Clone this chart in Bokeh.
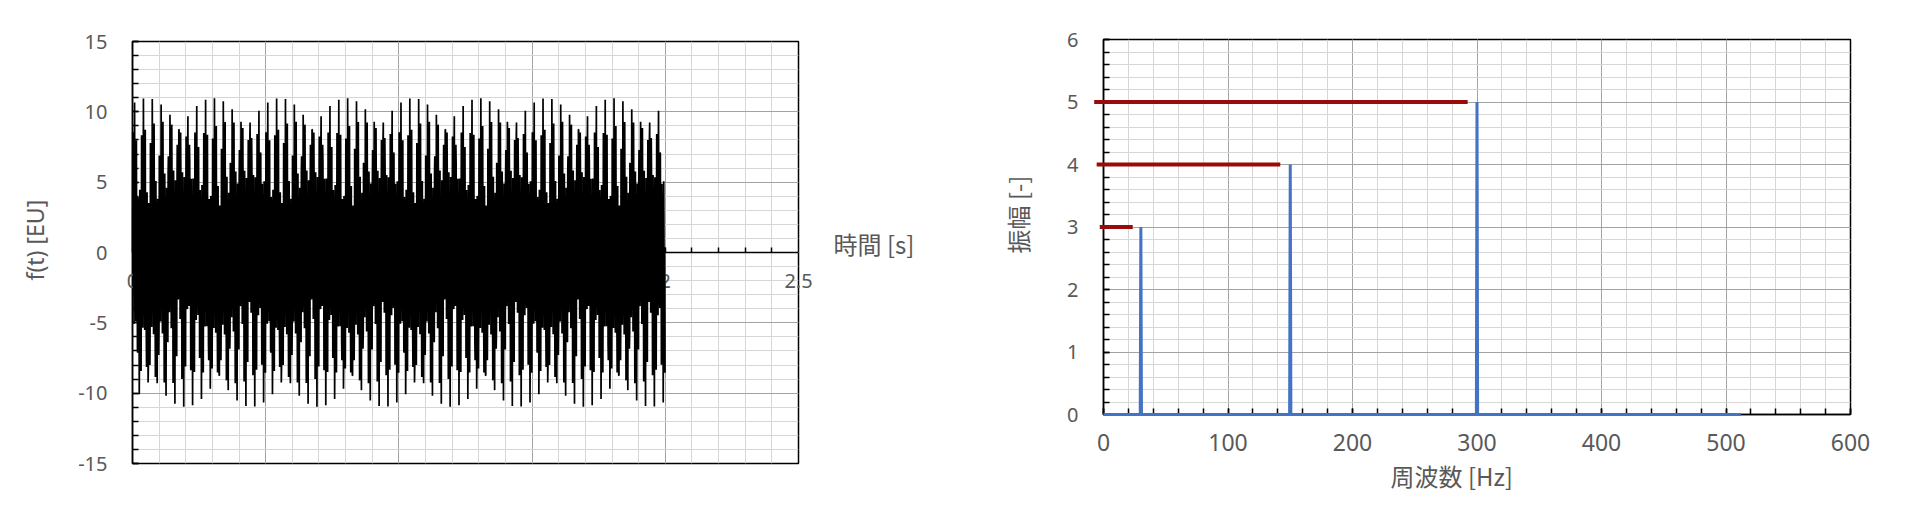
import numpy as np
from bokeh.plotting import figure
from bokeh.models import (SingleIntervalTicker, FixedTicker, Range1d, PrintfTickFormatter, Title)
from bokeh.core.properties import value
from bokeh.layouts import row
from bokeh.embed import file_html
from bokeh.resources import INLINE

# ---------------- data ----------------
# signal components (frequency [Hz], amplitude)
component_freqs = [30, 150, 300]
component_amps = [3, 4, 5]
sample_rate = 1024          # spectrum ends at 512 Hz
duration = 2.0              # time signal ends at 2 s

# amplitude spectrum polyline
spec_freq = [0, 29.5, 30, 30.5, 149.5, 150, 150.5, 299.5, 300, 300.5, 512]
spec_amp = [0, 0, 3, 0, 0, 4, 0, 0, 5, 0, 0]

# dark red horizontal marker lines
marker_y = [3, 4, 5]
marker_x_start = [-3, -5.5, -7.5]
marker_x_end = [23.5, 142, 292.5]

# time-axis tick labels
time_ticks = [0, 0.5, 1, 1.5, 2, 2.5]
time_tick_labels = ["0", "0.5", "1", "1.5", "2", "2.5"]

# ---------------- styles ----------------
NUM_FONT = "Noto Sans"
JP_FONT = "Noto Sans CJK JP"
TXT = "#595959"
MAJOR = "#a3a3a3"
MINOR = "#d6d6d6"
H = 500

t = np.arange(int(sample_rate * duration)) / sample_rate
f = np.zeros_like(t)
for fr, a in zip(component_freqs, component_amps):
    f += a * np.sin(2 * np.pi * fr * t)


def no_align(p):
    try:
        p.frame_align = False
    except Exception:
        pass


def style_axis(ax, size="20px"):
    ax.axis_line_color = "black"
    ax.axis_line_width = 1.5
    ax.major_tick_in = 6
    ax.major_tick_out = 0
    ax.minor_tick_in = 6
    ax.minor_tick_out = 0
    ax.major_tick_line_color = "black"
    ax.minor_tick_line_color = "black"
    ax.major_tick_line_width = 1.5
    ax.minor_tick_line_width = 1.5
    ax.major_label_text_font = NUM_FONT
    ax.major_label_text_font_size = size
    ax.major_label_text_color = TXT


def style_grid(g, interval, nminor):
    g.ticker = SingleIntervalTicker(interval=interval, num_minor_ticks=nminor)
    g.grid_line_color = MAJOR
    g.grid_line_width = 1
    g.minor_grid_line_color = MINOR
    g.minor_grid_line_width = 1


def text_strip(width, height=H):
    s = figure(width=width, height=height, x_range=Range1d(0, width), y_range=Range1d(0, height),
               output_backend="svg", toolbar_location=None,
               x_axis_location=None, y_axis_location=None,
               min_border_left=0, min_border_right=0, min_border_top=0, min_border_bottom=0)
    s.outline_line_color = None
    s.xgrid.visible = False
    s.ygrid.visible = False
    no_align(s)
    return s


# ---------------- left strip: y title of time plot ----------------
s0 = text_strip(60)
s0.text(x=[34], y=[H - 280], text=["f(t) [EU]"], angle=np.pi / 2,
        text_align="left", text_baseline="middle",
        text_font=value(NUM_FONT), text_font_size="23px", text_color=TXT)

# ---------------- left: time signal ----------------
p1 = figure(frame_width=666, frame_height=422,
            x_range=Range1d(0, 2.5), y_range=Range1d(-15, 15),
            output_backend="svg", toolbar_location=None,
            min_border_left=72, min_border_right=22, min_border_top=41,
            min_border_bottom=20)
no_align(p1)
p1.outline_line_color = "black"
p1.outline_line_width = 1.5
style_grid(p1.xgrid[0], 0.5, 5)
style_grid(p1.ygrid[0], 5, 5)

p1.yaxis.ticker = SingleIntervalTicker(interval=5, num_minor_ticks=5)
p1.yaxis.formatter = PrintfTickFormatter(format="%d")
style_axis(p1.yaxis[0])
p1.yaxis.major_label_standoff = 25

# x axis crossing at zero (line + small ticks every 0.1 s); its labels are
# drawn as text so that they may cross the frame edge and lie beneath the signal
xa = p1.xaxis[0]
xa.fixed_location = 0
xa.ticker = FixedTicker(ticks=[], minor_ticks=list(np.round(np.arange(1, 25) * 0.1, 1)))
style_axis(xa)
xa.minor_tick_in = 5

tl = p1.text(x=time_ticks, y=[-2.0] * len(time_ticks), text=time_tick_labels,
             text_align="center", text_baseline="middle",
             text_font=value(NUM_FONT), text_font_size="20px", text_color=TXT)
tl.level = "annotation"

sig = p1.line(t, f, line_color="black", line_width=1.7)
sig.level = "annotation"

# ---------------- middle strip: 時間 [s] and y title of spectrum ----------------
s1 = text_strip(240)
s1.text(x=[13], y=[H - 243], text=["時間 [s]"],
        text_align="left", text_baseline="middle",
        text_font=value(JP_FONT), text_font_size="24px", text_color=TXT)
s1.text(x=[197], y=[H - 253], text=["振幅 [-]"], angle=np.pi / 2,
        text_align="left", text_baseline="middle",
        text_font=value(JP_FONT), text_font_size="24px", text_color=TXT)

# ---------------- right: amplitude spectrum ----------------
p2 = figure(frame_width=747, frame_height=375,
            x_range=Range1d(0, 600), y_range=Range1d(0, 6),
            output_backend="svg", toolbar_location=None,
            min_border_left=43, min_border_right=62, min_border_top=39,
            min_border_bottom=20)
no_align(p2)
p2.outline_line_color = "black"
p2.outline_line_width = 1.5
style_grid(p2.xgrid[0], 100, 5)
style_grid(p2.ygrid[0], 1, 5)
p2.xaxis.ticker = SingleIntervalTicker(interval=100, num_minor_ticks=5)
p2.yaxis.ticker = SingleIntervalTicker(interval=1, num_minor_ticks=5)
style_axis(p2.xaxis[0], "23px")
style_axis(p2.yaxis[0], "20px")
p2.xaxis.major_label_standoff = 19
p2.yaxis.major_label_standoff = 25

spec = p2.line(spec_freq, spec_amp, line_color="#4472C4", line_width=3)
spec.level = "annotation"
mk = p2.segment(x0=marker_x_start, y0=marker_y, x1=marker_x_end, y1=marker_y,
                line_color="#9A0C0C", line_width=4)
mk.level = "annotation"

p2.add_layout(Title(text="周波数 [Hz]", align="left", offset=287, standoff=4,
                    text_font=JP_FONT, text_font_size="24px", text_font_style="normal",
                    text_color=TXT), "below")

layout = row(s0, p1, s1, p2)
open("out.html", "w").write(file_html(layout, INLINE))
